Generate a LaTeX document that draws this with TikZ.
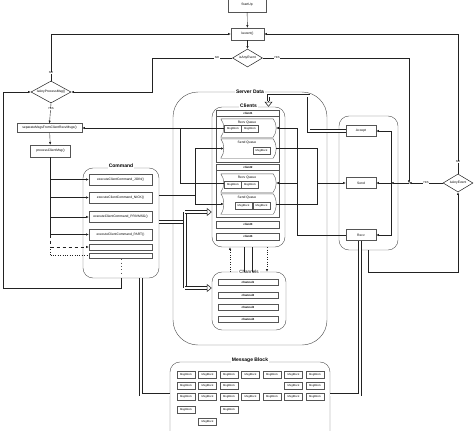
\documentclass[tikz,border=0pt]{standalone}
\usepackage{fontspec}
\setmainfont{Liberation Sans}
\usetikzlibrary{arrows.meta,positioning,calc,shapes.geometric}
\definecolor{lnGray}{HTML}{222222}
\definecolor{bdGray}{HTML}{555555}

% curved queue outline round a (borderless) node
\newcommand{\queueline}[1]{%
  \draw[bdGray, line width=0.4pt] (#1.north west) -- (#1.north east)
    .. controls ($(#1.north east)+(4,5)$) and ($(#1.south east)+(4,-5)$) .. (#1.south east)
    -- (#1.south west)
    .. controls ($(#1.south west)+(4,-5)$) and ($(#1.north west)+(4,5)$) .. (#1.north west);}

\begin{document}
\begin{tikzpicture}[
  x=1pt, y=-1pt, font=\fontsize{3.3}{4}\selectfont,
  box/.style={draw=bdGray, fill=white, line width=0.4pt, inner sep=0pt, align=center},
  cbox/.style={box, minimum width=63, minimum height=11},
  sbox/.style={box, minimum width=30, minimum height=11},
  msg/.style={box, minimum width=17, minimum height=7, font=\fontsize{2.7}{3}\selectfont},
  cli/.style={box, minimum width=63, font=\fontsize{2.9}{3}\selectfont\bfseries},
  que/.style={inner sep=0pt, minimum width=52},
  dec/.style={diamond, draw=lnGray, fill=white, line width=0.5pt, inner sep=0pt},
  cont/.style={draw=bdGray, line width=0.45pt, rounded corners=10pt},
  ttl/.style={fill=white, inner sep=1pt, font=\fontsize{5}{6}\selectfont\bfseries},
  yn/.style={fill=white, inner sep=0.5pt, font=\fontsize{2.8}{3}\selectfont},
  ar/.style={-{Latex[length=2.6pt,width=2.2pt]}, draw=lnGray, line width=0.4pt},
  ln/.style={draw=lnGray, line width=0.4pt},
  dbl/.style={draw=lnGray, line width=0.75pt, double=white, double distance=1.6pt},
  hol/.style={-{Triangle[open, length=5pt, width=8pt, fill=white]}, draw=lnGray, line width=0.55pt},
]
\useasboundingbox (0,0) rectangle (474,431);

% ============================================================ main loop
\node[box, minimum width=38, minimum height=14] at (247,5) (start) {StartUp};
\node[box, minimum width=33, minimum height=12] at (247.5,34) (kev) {kevent()};
\node[dec, minimum width=30, minimum height=18, shape aspect=1.7] at (247.5,58) (evt1) {isAnyEvent};
\node[dec, minimum width=40, minimum height=22, shape aspect=1.8] at (51,92) (apm) {isAnyProcessMsg()};
\node[box, minimum width=65, minimum height=9] at (49.5,128) (sep) {separateMsgsFromClientRecvMsgs()};
\node[box, minimum width=40, minimum height=12] at (50.5,151) (proc) {processClientMsg()};

% ============================================================ commands
\node[cont, minimum width=76, minimum height=110] at (121,223) (cmd) {};
\node[ttl] at (121,166) (cmdl) {Command};
\node[cbox] at (120.5,179.5) (cJoin) {executeClientCommand\_JOIN()};
\node[cbox] at (120.5,197.5) (cNick) {executeClientCommand\_NICK()};
\node[cbox] at (120.5,217) (cPriv) {executeClientCommand\_PRIVMSG()};
\node[cbox] at (120.5,234.5) (cPart) {executeClientCommand\_PART()};
\node[cbox, minimum height=6] at (120.5,247) (cE1) {};
\node[cbox, minimum height=4.5] at (120.5,255.5) (cE2) {};
\draw[bdGray, line width=0.8pt, dash pattern=on 0.8pt off 2.6pt] ($(cmd.south)+(0,-19)$) -- ($(cmd.south)+(0,-3)$);

% ============================================================ server data
\node[cont, rounded corners=25pt, minimum width=154, minimum height=253] at (250,218.5) (srv) {};
\node[ttl] at (250,92) (srvl) {Server Data};

% ---- clients
\node[cont, minimum width=73, minimum height=140] at (248.5,177) (clients) {};
\node[ttl] at (248.5,106) (clil) {Clients};

\node[cli, minimum height=52] at (248,136) (cl1) {};
\node[cli, minimum height=6.5, anchor=north] at (cl1.north) (cl1h) {client1};
\node[que, minimum height=18] at (247,128) (rq1) {};
\node[que, minimum height=19] at (247,148.5) (sq1) {};
\node[cli, minimum height=53] at (248,190.5) (cl2) {};
\node[cli, minimum height=6.5, anchor=north] at (cl2.north) (cl2h) {client2};
\node[que, minimum height=18] at (247,183) (rq2) {};
\node[que, minimum height=20] at (247,204) (sq2) {};
\queueline{rq1}
\queueline{sq1}
\queueline{rq2}
\queueline{sq2}
\node at (247,122.5) (rq1l) {Recv Queue};
\node at (247,143) (sq1l) {Send Queue};
\node at (247,177.5) (rq2l) {Recv Queue};
\node at (247,198) (sq2l) {Send Queue};
\node[msg] at (233,128.5) (m11) {MsgBlock};
\node[msg] at (250,128.5) (m12) {MsgBlock};
\node[msg] at (261.5,151) (m13) {MsgBlock};
\node[msg] at (233,184.5) (m21) {MsgBlock};
\node[msg] at (250,184.5) (m22) {MsgBlock};
\node[msg] at (243.5,206) (m23) {MsgBlock};
\node[msg] at (261.5,206) (m24) {MsgBlock};
\node[cli, minimum height=7] at (248,224.5) (cl3) {client3};
\node[cli, minimum height=7] at (248,236.5) (cl4) {client4};

% ---- channels
\node[cont, minimum width=74, minimum height=58] at (249,301) (chans) {};
\node[ttl, font=\fontsize{4.6}{5}\selectfont] at (249,272) (chanl) {Channels};
\foreach \i/\y in {1/282, 2/295, 3/307, 4/319}
  \node[cli, minimum width=60, minimum height=6] at (248,\y) (ch\i) {channel\i};

% ============================================================ sockets
\node[cont, minimum width=59, minimum height=134] at (368.5,183) (sock) {};
\node[sbox] at (361,131) (acc) {Accept};
\node[sbox] at (361,183) (snd) {Send};
\node[sbox] at (361,235) (rcv) {Recv};
\node[dec, minimum width=30, minimum height=18, shape aspect=1.7] at (458,183) (evt2) {isAnyEvent};

% ============================================================ message block
\node[cont, minimum width=160, minimum height=80] at (250,402) (mblk) {};
\node[ttl] at (250,360) (mblkl) {Message Block};
\foreach \r/\c in {1/1,1/2,1/3,1/4,1/5,1/6,1/7, 2/1,2/2,2/3,2/6,2/7,
                   3/1,3/2,3/3,3/4,3/5,3/6,3/7, 4/1,4/3, 5/2}
  \node[msg, minimum width=18] at ({186+21.5*(\c-1)},{\r==1 ? 374.5 : (\r==2 ? 385.5 : (\r==3 ? 397 : (\r==4 ? 410 : 422)))}) (mb-\r-\c) {MsgBlock};

% ============================================================ arrows
\draw[ar] (start) -- (kev);
\draw[ar] (kev) -- (evt1);
\draw[ar] (evt1.west) -- ++(-80,0) |- (apm.east);
\node[yn] at (217,58) {NO};
\draw[ar] (apm.north) |- (kev.west);
\node[yn] at (51,73) {NO};
\draw[ar] (apm.south) -- (sep.north);
\node[yn] at (51,109) {YES};
\draw[ar] (sep) -- (proc);
\draw[ln] (proc.south) -- (proc.south |- cPart.west);
\draw[ln, dashed] (proc.south |- cPart.west) -- (proc.south |- cE1.west);
\draw[ln, dotted] (proc.south |- cE1.west) -- (proc.south |- cE2.west);
\draw[ar] (proc.south |- cJoin.west) -- (cJoin.west);
\draw[ar] (proc.south |- cNick.west) -- (cNick.west);
\draw[ar] (proc.south |- cPriv.west) -- (cPriv.west);
\draw[ar] (proc.south |- cPart.west) -- (cPart.west);
\draw[ar, dashed] (proc.south |- cE1.west) -- (cE1.west);
\draw[ln, dotted] (proc.south |- cE2.west) -- (cE2.west);
\draw[ar] (cmd.south) -- ++(0,10) -| (3,92) -- (apm.west);

% commands -> send queues, clients, channels
\coordinate (sqj) at (195,195);
\draw[ln] (cmd.east |- sqj) -- (sqj);
\draw[ar] (sqj) |- ($(sq1.west)+(3,0)$);
\draw[ar] (sqj) |- ($(sq2.west)+(3,0)$);
\coordinate (dj) at (185,222);
\coordinate (dja) at (185,212);
\coordinate (djb) at (185,288);
\coordinate (dta) at ($(clients.west |- dja)+(-5,0)$);
\coordinate (dtb) at ($(chans.west |- djb)+(-5,0)$);
\draw[dbl] (cmd.east |- dj) -- (dj);
\draw[dbl] (dja) -- (djb);
\draw[dbl] (dja) -- (dta);
\draw[dbl] (djb) -- (dtb);
\draw[hol] (dta) -- (clients.west |- dja);
\draw[hol] (dtb) -- (chans.west |- djb);

% clients <-> channels
\draw[ar, dotted] ($(chans.north)+(-19,0)$) -- ($(clients.south)+(-18.5,0)$);
\draw[ln] ($(clients.south)+(-4.5,0)$) -- ($(chans.north)+(-5,0)$);
\draw[ln] ($(clients.south)+(3.5,0)$) -- ($(chans.north)+(3,0)$);
\draw[ar, dotted] ($(clients.south)+(18.5,0)$) -- ($(chans.north)+(18,0)$);

% recv queues -> separate
\coordinate (lj) at (180,128);
\draw[ar] ($(rq1.west)+(3,0)$) -- (sep.east);
\draw[ln] ($(rq2.west)+(3,0)$) -| (lj);

% event dispatch
\coordinate (yj) at (409,183);
\coordinate (sj) at (391,183);
\draw[ar] (evt1.east) -| (yj);
\node[yn] at (277,58) {YES};
\draw[ar] (evt2.west) -- (yj);
\node[yn] at (426,183) {YES};
\draw[ar] (yj) -- (sj);
\draw[ar] (sj) |- (acc.east);
\draw[ar] (sj) -- (snd.east);
\draw[ar] (sj) |- (rcv.east);
\draw[ar] (evt2.north) |- (kev.east);
\node[yn] at (458,162) {NO};
\draw[ar] (sock.south) -- ++(0,22) -| (evt2.south);

% accept -> new client
\coordinate (ac) at ($(clients.north)+(20,-6)$);
\draw[dbl] (acc.west) -- ++(-37,0) |- ($(clients.north)+(20,-11)$) -- (ac);
\draw[hol] (ac) -- ($(clients.north)+(20,0)$);

% recv -> recv queues
\coordinate (rj) at (297,235);
\draw[ln] (rcv.west) -- (rj);
\draw[ar] (rj) |- ($(rq1.east)+(3,0)$);
\draw[ar] (rj) |- ($(rq2.east)+(3,0)$);

% send queues -> send
\coordinate (tj) at (317,183);
\draw[ln] ($(sq1.east)+(3,0)$) -| (tj);
\draw[ln] ($(sq2.east)+(3,0)$) -| (tj);
\draw[ar] (tj) -- (snd.west);

% message block links
\draw[dbl] ($(cmd.south)+(20,0)$) |- ($(mblk.north west)+(0,33)$);
\draw[dbl] ($(rcv.south)+(-1,0)$) |- ($(mblk.north east)+(0,33)$);

\end{tikzpicture}
\end{document}
